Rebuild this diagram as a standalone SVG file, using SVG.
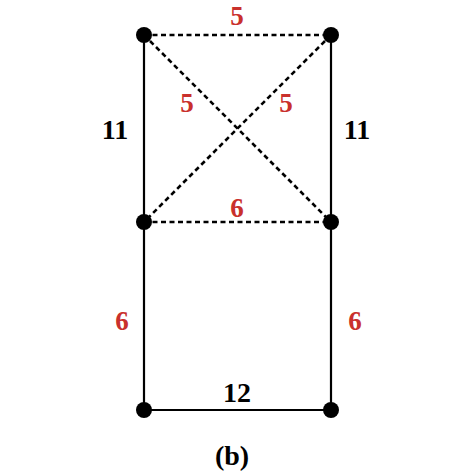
<svg xmlns="http://www.w3.org/2000/svg" width="474" height="474" viewBox="0 0 474 474">
<style>
.e{stroke:#000;stroke-width:2.2;fill:none}
.d{stroke-width:2.6;stroke-dasharray:5,3.5}
.n{fill:#000}
text{font-family:"Liberation Serif","Times New Roman",serif;font-weight:bold;text-anchor:middle}
.r{fill:#c9302c;font-size:27px}
.k{fill:#000;font-size:28px}
</style>
<rect width="474" height="474" fill="#fff"/>
<g id="edges">
<line class="e" x1="144" y1="35" x2="144" y2="410"/>
<line class="e" x1="331" y1="35" x2="331" y2="410"/>
<line class="e" x1="144" y1="410" x2="331" y2="410"/>
<line class="e d" x1="144" y1="35" x2="331" y2="35"/>
<line class="e d" x1="144" y1="222" x2="331" y2="222"/>
<line class="e d" x1="144" y1="35" x2="331" y2="222"/>
<line class="e d" x1="331" y1="35" x2="144" y2="222"/>
</g>
<g id="n1"><circle class="n" cx="144" cy="35" r="8"/></g>
<g id="n2"><circle class="n" cx="331" cy="35" r="8"/></g>
<g id="n3"><circle class="n" cx="144" cy="222" r="8"/></g>
<g id="n4"><circle class="n" cx="331" cy="222" r="8"/></g>
<g id="n5"><circle class="n" cx="144" cy="410" r="8"/></g>
<g id="n6"><circle class="n" cx="331" cy="410" r="8"/></g>
<g id="labels">
<text class="r" x="237" y="25">5</text>
<text class="r" x="187" y="112">5</text>
<text class="r" x="286" y="112">5</text>
<text class="k" x="115" y="139">11</text>
<text class="k" x="357" y="139">11</text>
<text class="r" x="237" y="217">6</text>
<text class="r" x="122" y="330">6</text>
<text class="r" x="355" y="330">6</text>
<text class="k" x="237" y="402">12</text>
<text class="k" x="232" y="465">(b)</text>
</g>
</svg>
